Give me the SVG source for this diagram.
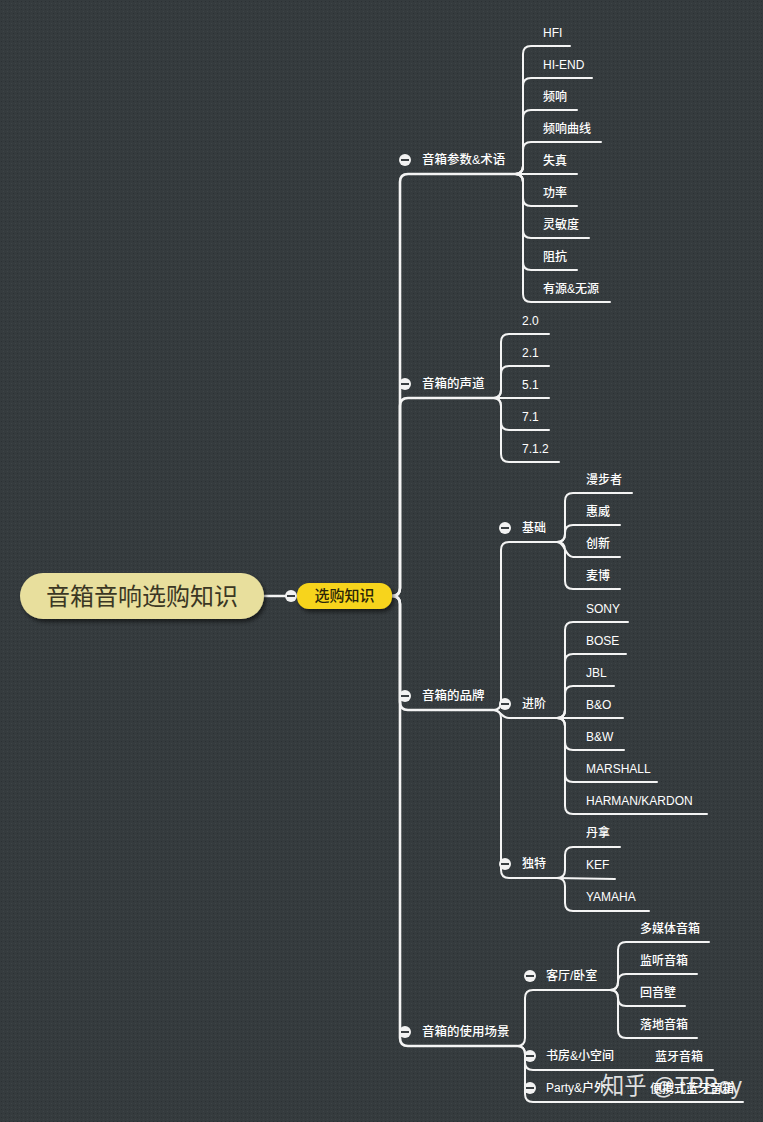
<svg xmlns="http://www.w3.org/2000/svg" width="763" height="1122" viewBox="0 0 763 1122">
<defs>
<pattern id="dots" width="4" height="4" patternUnits="userSpaceOnUse">
<rect width="4" height="4" fill="#353b3e"/>
<rect x="1" y="1" width="1" height="1" fill="#2c3134"/>
<rect x="3" y="3" width="1" height="1" fill="#3e4447"/>
</pattern>
<filter id="sh" x="-10%" y="-30%" width="130%" height="170%">
<feDropShadow dx="2" dy="3" stdDeviation="2" flood-color="#000" flood-opacity="0.55"/>
</filter>
<g id="minus">
<circle r="6" fill="#f2f2f2"/>
<rect x="-4" y="-1" width="8" height="2" fill="#3a3f42"/>
</g>
</defs>
<style>
.c{fill:none;stroke:#f4f4f4;stroke-width:2;stroke-linecap:round}
.m{stroke-width:2.6}
text{font-family:"Liberation Sans","Noto Sans CJK SC",sans-serif;fill:#ffffff;font-size:12px;font-weight:500}
.t2{font-size:12.5px}
.rt{font-size:24px;fill:#3b3724;font-weight:400}
.l1{font-size:15px;fill:#2b2608}
.wm{font-size:24px;fill:#ffffff;fill-opacity:0.85;font-weight:400}
</style>
<rect width="763" height="1122" fill="url(#dots)"/>

<g id="connectors">
<path class="c m" d="M264,596 L287,596"/>
<path class="c m" d="M392,596 Q400,596 400,588 L400,182 Q400,174 408,174 L515,174"/>
<path class="c m" d="M392,596 Q400,596 400,588 L400,406 Q400,398 408,398 L493,398"/>
<path class="c m" d="M392,596 Q400,596 400,604 L400,702 Q400,710 408,710 L493,710"/>
<path class="c m" d="M392,596 Q400,596 400,604 L400,1038 Q400,1046 408,1046 L517,1046"/>
<path class="c" d="M515,174 Q523,174 523,166 L523,54 Q523,46 531,46 L570,46"/>
<path class="c" d="M515,174 Q523,174 523,166 L523,86 Q523,78 531,78 L592,78"/>
<path class="c" d="M515,174 Q523,174 523,166 L523,118 Q523,110 531,110 L577,110"/>
<path class="c" d="M515,174 Q523,174 523,166 L523,150 Q523,142 531,142 L601,142"/>
<path class="c" d="M515,174 L577,174"/>
<path class="c" d="M515,174 Q523,174 523,182 L523,198 Q523,206 531,206 L577,206"/>
<path class="c" d="M515,174 Q523,174 523,182 L523,230 Q523,238 531,238 L589,238"/>
<path class="c" d="M515,174 Q523,174 523,182 L523,262 Q523,270 531,270 L577,270"/>
<path class="c" d="M515,174 Q523,174 523,182 L523,294 Q523,302 531,302 L610,302"/>
<path class="c" d="M493,398 Q501,398 501,390 L501,342 Q501,334 509,334 L549,334"/>
<path class="c" d="M493,398 Q501,398 501,390 L501,374 Q501,366 509,366 L549,366"/>
<path class="c" d="M493,398 L549,398"/>
<path class="c" d="M493,398 Q501,398 501,406 L501,422 Q501,430 509,430 L549,430"/>
<path class="c" d="M493,398 Q501,398 501,406 L501,454 Q501,462 509,462 L559,462"/>
<path class="c" d="M493,710 Q501,710 501,702 L501,550 Q501,542 509,542 L557,542"/>
<path class="c" d="M493,710 C501,710 501,718 509,718 L557,718"/>
<path class="c" d="M493,710 Q501,710 501,718 L501,870 Q501,878 509,878 L557,878"/>
<path class="c" d="M557,542 Q565,542 565,534 L565,501 Q565,493 573,493 L632,493"/>
<path class="c" d="M557,542 Q565,542 565,534 L565,533 Q565,525 573,525 L620,525"/>
<path class="c" d="M557,542 C565,542 565,557 573,557 L620,557"/>
<path class="c" d="M557,542 Q565,542 565,550 L565,581 Q565,589 573,589 L620,589"/>
<path class="c" d="M557,718 Q565,718 565,710 L565,630 Q565,622 573,622 L628,622"/>
<path class="c" d="M557,718 Q565,718 565,710 L565,662 Q565,654 573,654 L626,654"/>
<path class="c" d="M557,718 Q565,718 565,710 L565,694 Q565,686 573,686 L614,686"/>
<path class="c" d="M557,718 L623,718"/>
<path class="c" d="M557,718 Q565,718 565,726 L565,742 Q565,750 573,750 L624,750"/>
<path class="c" d="M557,718 Q565,718 565,726 L565,774 Q565,782 573,782 L657,782"/>
<path class="c" d="M557,718 Q565,718 565,726 L565,806 Q565,814 573,814 L707,814"/>
<path class="c" d="M557,878 Q565,878 565,870 L565,855 Q565,847 573,847 L620,847"/>
<path class="c" d="M557,878 L615,879"/>
<path class="c" d="M557,878 Q565,878 565,886 L565,903 Q565,911 573,911 L649,911"/>
<path class="c" d="M517,1046 Q525,1046 525,1038 L525,998 Q525,990 533,990 L610,990"/>
<path class="c" d="M517,1046 Q525,1046 525,1054 L525,1062 Q525,1070 533,1070 L713,1070"/>
<path class="c" d="M517,1046 Q525,1046 525,1054 L525,1094 Q525,1102 533,1102 L743,1102"/>
<path class="c" d="M610,990 Q618,990 618,982 L618,950 Q618,942 626,942 L709,942"/>
<path class="c" d="M610,990 Q618,990 618,982 Q618,974 626,974 L697,974"/>
<path class="c" d="M610,990 Q618,990 618,998 Q618,1006 626,1006 L685,1006"/>
<path class="c" d="M610,990 Q618,990 618,998 L618,1030 Q618,1038 626,1038 L697,1038"/>
</g>

<g id="root">
<rect x="20" y="573" width="244" height="46" rx="23" fill="#e8df9d" filter="url(#sh)"/>
<text class="rt" x="142" y="605" text-anchor="middle">音箱音响选购知识</text>
</g>
<g id="n-xuangou">
<use href="#minus" x="291" y="596"/>
<rect x="297" y="583" width="95" height="26" rx="12" fill="#f7d41a" filter="url(#sh)"/>
<text class="l1" x="344.5" y="601" text-anchor="middle">选购知识</text>
</g>

<g id="n-canshu"><use href="#minus" x="405" y="160"/><text class="t2" x="422" y="164">音箱参数&amp;术语</text></g>
<g id="n-shengdao"><use href="#minus" x="405" y="384"/><text class="t2" x="422" y="388">音箱的声道</text></g>
<g id="n-pinpai"><use href="#minus" x="405" y="696"/><text class="t2" x="422" y="700">音箱的品牌</text></g>
<g id="n-changjing"><use href="#minus" x="405" y="1032"/><text class="t2" x="422" y="1036">音箱的使用场景</text></g>

<g id="n-hfi"><text x="543" y="37">HFI</text></g>
<g id="n-hiend"><text x="543" y="69">HI-END</text></g>
<g id="n-pinxiang"><text x="543" y="101">频响</text></g>
<g id="n-quxian"><text x="543" y="133">频响曲线</text></g>
<g id="n-shizhen"><text x="543" y="165">失真</text></g>
<g id="n-gonglv"><text x="543" y="197">功率</text></g>
<g id="n-lingmin"><text x="543" y="229">灵敏度</text></g>
<g id="n-zukang"><text x="543" y="261">阻抗</text></g>
<g id="n-youyuan"><text x="543" y="293">有源&amp;无源</text></g>

<g id="n-20"><text x="522" y="325">2.0</text></g>
<g id="n-21"><text x="522" y="357">2.1</text></g>
<g id="n-51"><text x="522" y="389">5.1</text></g>
<g id="n-71"><text x="522" y="421">7.1</text></g>
<g id="n-712"><text x="522" y="453">7.1.2</text></g>

<g id="n-jichu"><use href="#minus" x="505" y="528"/><text x="522" y="532">基础</text></g>
<g id="n-jinjie"><use href="#minus" x="505" y="704"/><text x="522" y="708">进阶</text></g>
<g id="n-dute"><use href="#minus" x="505" y="864"/><text x="522" y="868">独特</text></g>

<g id="n-manbu"><text x="586" y="484">漫步者</text></g>
<g id="n-huiwei"><text x="586" y="516">惠威</text></g>
<g id="n-chuangxin"><text x="586" y="548">创新</text></g>
<g id="n-maibo"><text x="586" y="580">麦博</text></g>

<g id="n-sony"><text x="586" y="613">SONY</text></g>
<g id="n-bose"><text x="586" y="645">BOSE</text></g>
<g id="n-jbl"><text x="586" y="677">JBL</text></g>
<g id="n-bo"><text x="586" y="709">B&amp;O</text></g>
<g id="n-bw"><text x="586" y="741">B&amp;W</text></g>
<g id="n-marshall"><text x="586" y="773">MARSHALL</text></g>
<g id="n-harman"><text x="586" y="805">HARMAN/KARDON</text></g>

<g id="n-danna"><text x="586" y="837">丹拿</text></g>
<g id="n-kef"><text x="586" y="869">KEF</text></g>
<g id="n-yamaha"><text x="586" y="901">YAMAHA</text></g>

<g id="n-keting"><use href="#minus" x="530" y="976"/><text x="546" y="980">客厅/卧室</text></g>
<g id="n-shufang"><use href="#minus" x="530" y="1056"/><text x="546" y="1060">书房&amp;小空间</text></g>
<g id="n-party"><use href="#minus" x="530" y="1088"/><text x="546" y="1092">Party&amp;户外</text></g>

<g id="n-duomeiti"><text x="640" y="933">多媒体音箱</text></g>
<g id="n-jianting"><text x="640" y="965">监听音箱</text></g>
<g id="n-huiyinbi"><text x="640" y="997">回音壁</text></g>
<g id="n-luodi"><text x="640" y="1029">落地音箱</text></g>
<g id="n-lanya"><text x="655" y="1061">蓝牙音箱</text></g>
<g id="n-bianxie"><text x="650" y="1093">便携式蓝牙音箱</text></g>

<text class="wm" x="602" y="1094" textLength="140" lengthAdjust="spacingAndGlyphs">知乎 @TPBoy</text>
</svg>
